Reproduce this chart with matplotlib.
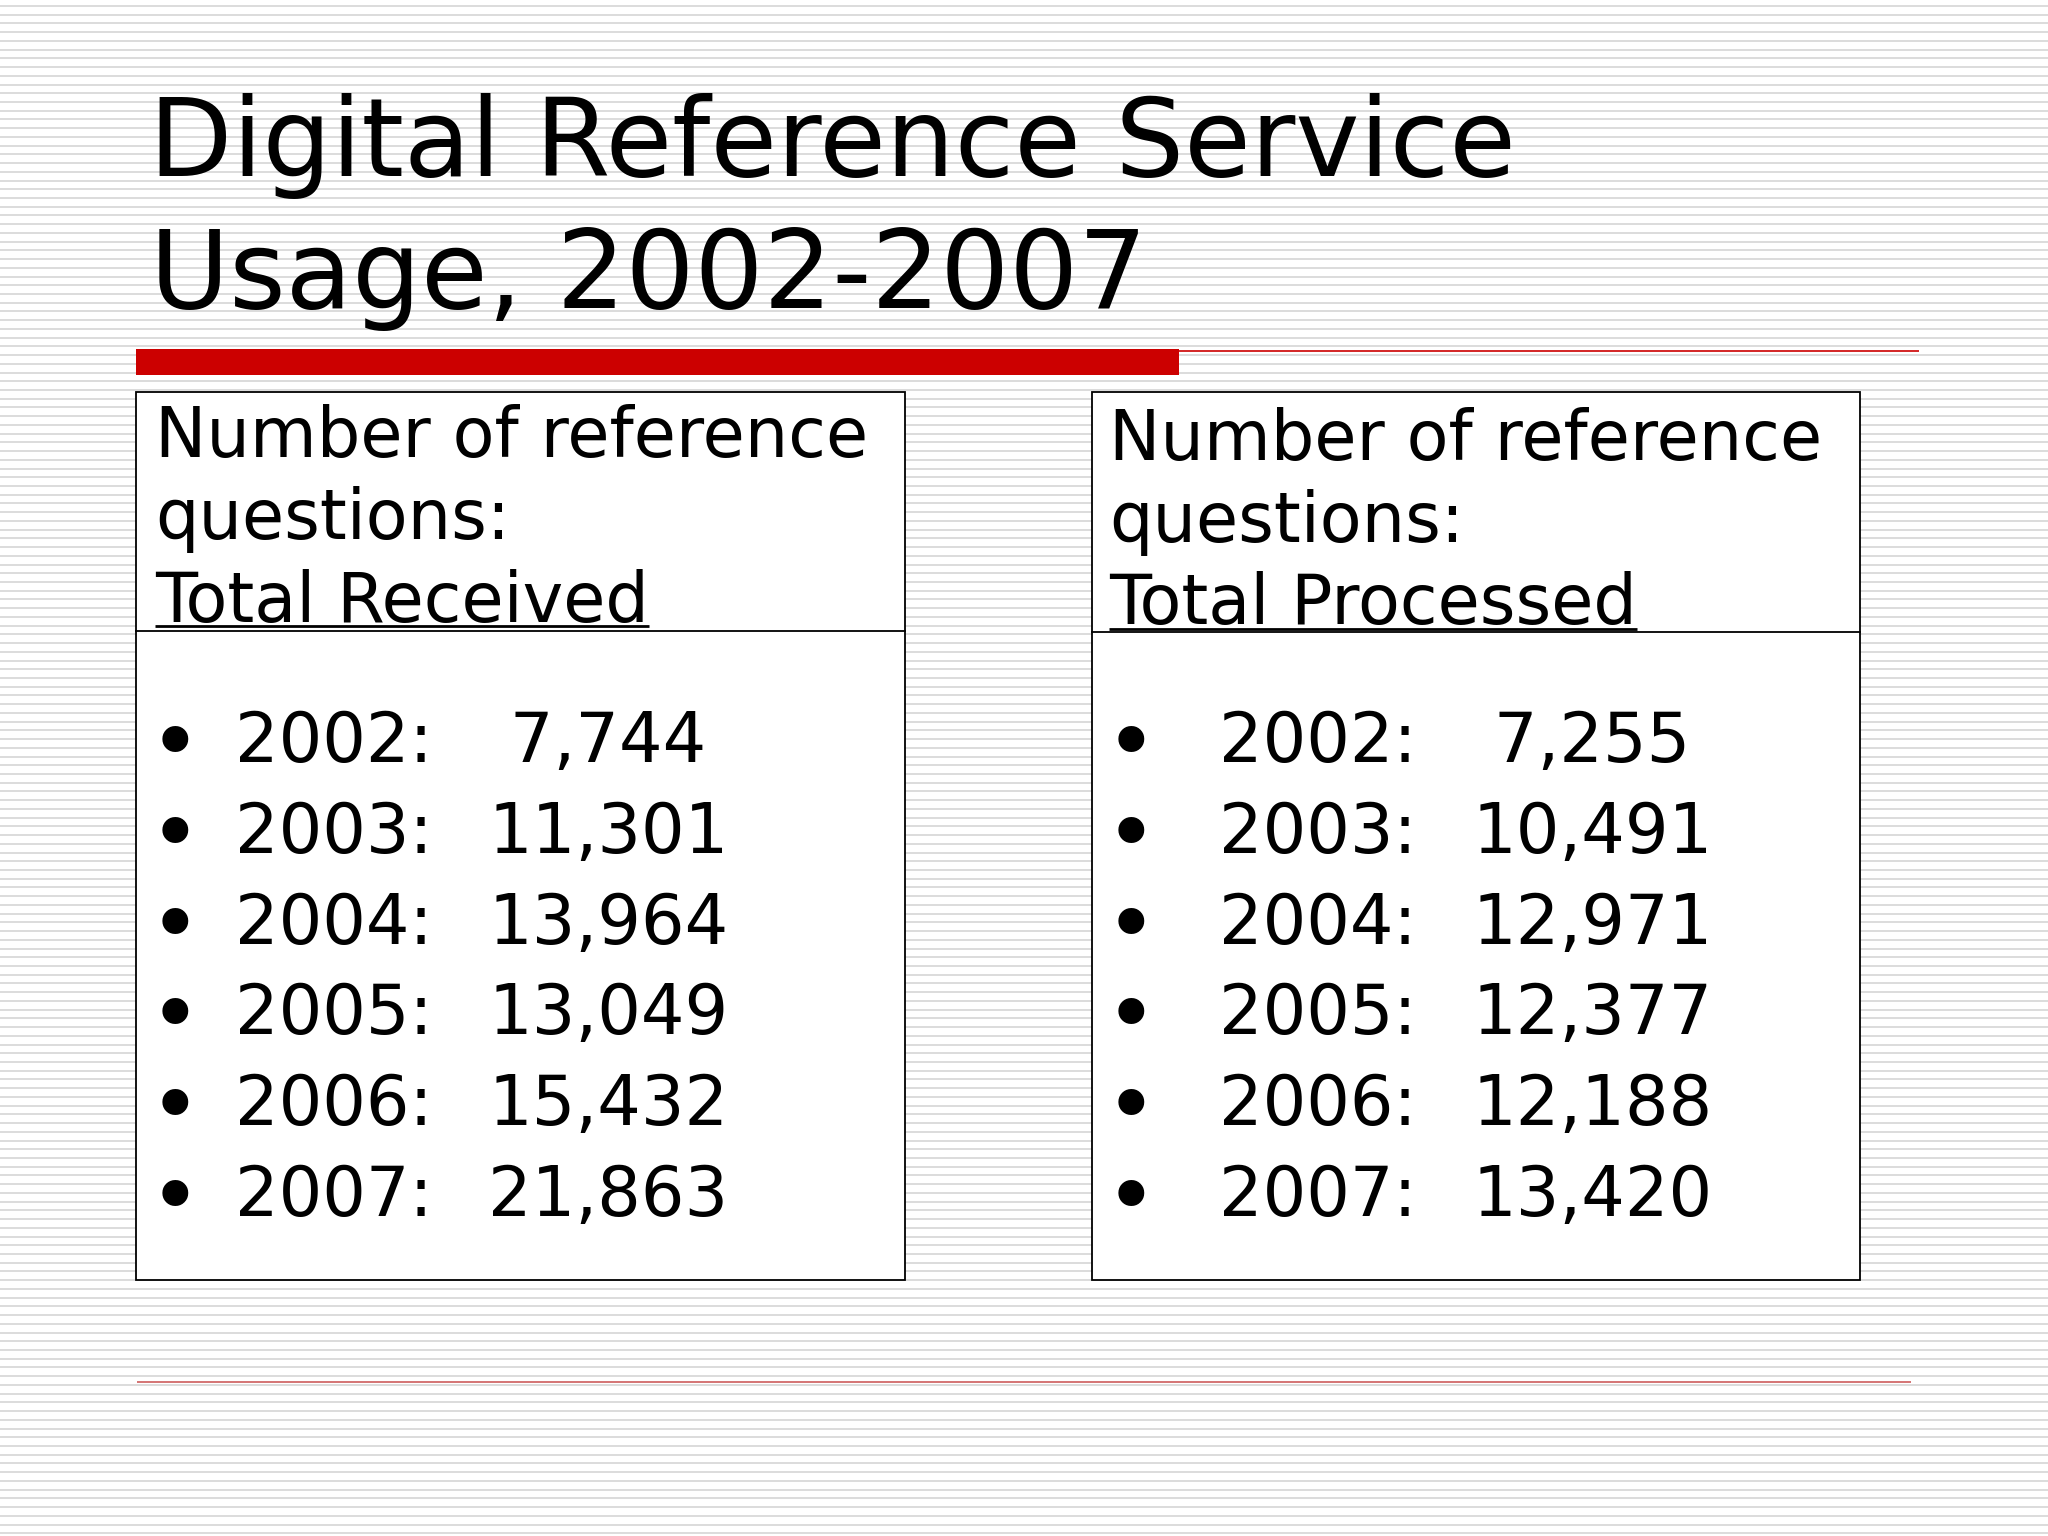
import matplotlib
matplotlib.use("Agg")
import matplotlib.pyplot as plt
from matplotlib.patches import Rectangle

# ---- content ----
title_lines = ["Digital Reference Service", "Usage, 2002-2007"]
header_lines = ["Number of reference", "questions:"]
left_heading = "Total Received"
right_heading = "Total Processed"
years = [2002, 2003, 2004, 2005, 2006, 2007]
received = [7744, 11301, 13964, 13049, 15432, 21863]
processed = [7255, 10491, 12971, 12377, 12188, 13420]

W, H = 2048, 1536
plt.rcParams['font.family'] = ['DejaVu Sans']
fig = plt.figure(figsize=(W / 100, H / 100), dpi=100)
fig.patch.set_facecolor('white')
ax = fig.add_axes([0, 0, 1, 1])
ax.set_xlim(0, W)
ax.set_ylim(H, 0)
ax.axis('off')

# background stripes
n_stripes = 176
period = H / n_stripes
ys = [6 + i * period for i in range(n_stripes)]
ax.hlines(ys, 0, W, colors='#d2d2d2', linewidth=1.1, zorder=0)

# title
TITLE_FS = 78
ax.text(149, 176, title_lines[0], fontsize=TITLE_FS, color='black', va='baseline', ha='left', zorder=3)
ax.text(150, 308, title_lines[1], fontsize=TITLE_FS, color='black', va='baseline', ha='left', zorder=3)

# red bar and lines
ax.add_patch(Rectangle((136, 349), 1043, 26, facecolor='#cc0000', edgecolor='none', zorder=2))
ax.plot([1179, 1919], [351, 351], color='#cc0000', linewidth=1.2, zorder=2, solid_capstyle='butt')
ax.plot([137, 1911], [1382, 1382], color='#cd5c5c', linewidth=1.2, zorder=2, solid_capstyle='butt')

BODY_FS = 49.4
boxes = [
    dict(x0=136, x1=905, div=631, tx=155, base=[457, 539, 622], ul=626, heading=left_heading,
         bullet_x=175, year_x=235, val_x=488, values=received),
    dict(x0=1092, x1=1860, div=632, tx=1109, base=[460, 542, 624], ul=629, heading=right_heading,
         bullet_x=1131, year_x=1219, val_x=1472, values=processed),
]

row_base0 = 762
row_step = 90.8

heading_texts = []
for b in boxes:
    ax.add_patch(Rectangle((b['x0'], 392), b['x1'] - b['x0'], 888, facecolor='white',
                           edgecolor='black', linewidth=1.3, zorder=4))
    ax.plot([b['x0'], b['x1']], [b['div'], b['div']], color='black', linewidth=1.3, zorder=5)
    ax.text(b['tx'], b['base'][0], header_lines[0], fontsize=BODY_FS, va='baseline', ha='left', zorder=6)
    ax.text(b['tx'], b['base'][1], header_lines[1], fontsize=BODY_FS, va='baseline', ha='left', zorder=6)
    t = ax.text(b['tx'], b['base'][2], b['heading'], fontsize=BODY_FS, va='baseline', ha='left', zorder=6)
    heading_texts.append((t, b))
    for i, (yr, v) in enumerate(zip(years, b['values'])):
        yb = row_base0 + i * row_step
        ax.text(b['bullet_x'], yb + 10, "\u2022", fontsize=BODY_FS * 1.3, va='baseline', ha='center', zorder=6)
        ax.text(b['year_x'], yb, f"{yr}:", fontsize=BODY_FS, va='baseline', ha='left', zorder=6)
        vs = f"{v:,}"
        if v < 10000:
            vs = " " + vs
        ax.text(b['val_x'], yb, vs, fontsize=BODY_FS, va='baseline', ha='left', zorder=6)

# underline headings
fig.canvas.draw()
renderer = fig.canvas.get_renderer()
for t, b in heading_texts:
    bb = t.get_window_extent(renderer)
    ax.plot([bb.x0, bb.x1], [b['ul'], b['ul']], color='black', linewidth=2.0, zorder=6,
            solid_capstyle='butt')

fig.savefig('out.png', dpi=100, facecolor='white')
